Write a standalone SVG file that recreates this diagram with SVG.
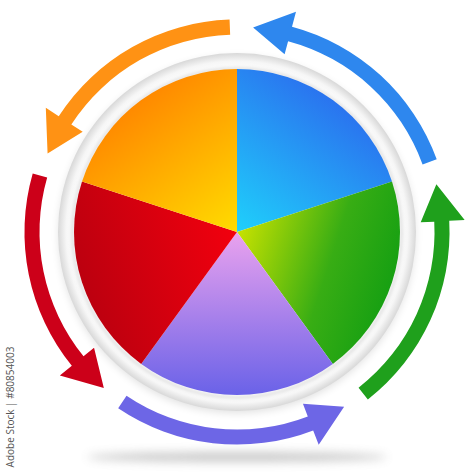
<svg xmlns="http://www.w3.org/2000/svg" xmlns:xlink="http://www.w3.org/1999/xlink" width="474" height="474" viewBox="0 0 474 474">
  <style>
    .wm { font-family: "Open Sans", "Liberation Sans", sans-serif; font-size: 10px; fill: #555; }
  </style>
  <defs>
    <linearGradient id="gBlue" gradientUnits="userSpaceOnUse" x1="237" y1="232" x2="332.8" y2="100.1">
      <stop offset="0" stop-color="#1fd0fb"/>
      <stop offset="1" stop-color="#2a74ef"/>
    </linearGradient>
    <linearGradient id="gGreen" gradientUnits="userSpaceOnUse" x1="237" y1="232" x2="392" y2="282.4">
      <stop offset="0" stop-color="#c8e200"/>
      <stop offset="0.6" stop-color="#38ad14"/>
      <stop offset="1" stop-color="#17a012"/>
    </linearGradient>
    <linearGradient id="gPurple" gradientUnits="userSpaceOnUse" x1="237" y1="232" x2="237" y2="395">
      <stop offset="0" stop-color="#eaa2ee"/>
      <stop offset="1" stop-color="#6a62e8"/>
    </linearGradient>
    <linearGradient id="gRed" gradientUnits="userSpaceOnUse" x1="237" y1="232" x2="82" y2="282.4">
      <stop offset="0" stop-color="#f2000e"/>
      <stop offset="1" stop-color="#bc000f"/>
    </linearGradient>
    <linearGradient id="gOrange" gradientUnits="userSpaceOnUse" x1="237" y1="232" x2="141.2" y2="100.1">
      <stop offset="0" stop-color="#ffdc00"/>
      <stop offset="1" stop-color="#ff8a00"/>
    </linearGradient>
    <radialGradient id="gRing" gradientUnits="userSpaceOnUse" cx="237" cy="232" r="179">
      <stop offset="0.9" stop-color="#ffffff"/>
      <stop offset="0.955" stop-color="#f6f6f6"/>
      <stop offset="1" stop-color="#d8d8d8"/>
    </radialGradient>
    <filter id="blur4" x="-20%" y="-20%" width="140%" height="140%">
      <feGaussianBlur stdDeviation="4"/>
    </filter>
    <filter id="blur2" x="-20%" y="-20%" width="140%" height="140%">
      <feGaussianBlur stdDeviation="1.5"/>
    </filter>
    <filter id="blurShadow" x="-30%" y="-300%" width="160%" height="700%">
      <feGaussianBlur stdDeviation="5"/>
    </filter>
    <path id="arr" d="M199.7,-72.7 A212.5,212.5 0 0,0 55.0,-205.3 L59.0,-220.2 L16.1,-204.4 L47.6,-177.7 L51.1,-190.8 A197.5,197.5 0 0,1 185.6,-67.5 Z"/>
  </defs>

  <rect width="474" height="474" fill="#ffffff"/>

  <!-- ground shadow -->
  <ellipse cx="237" cy="457" rx="150" ry="5" fill="#8a8a8a" opacity="0.45" filter="url(#blurShadow)"/>

  <!-- ring -->
  <g id="ring">
    <circle cx="237" cy="235" r="178" fill="#000" opacity="0.12" filter="url(#blur4)"/>
    <circle cx="237" cy="232" r="179" fill="url(#gRing)"/>
    <circle cx="237" cy="233" r="164.5" fill="none" stroke="#e2e2e2" stroke-width="3" filter="url(#blur2)"/>
  </g>

  <!-- pie slices -->
  <g id="slice-blue">
    <path d="M237,232 L237,69 A163,163 0 0,1 392,181.6 Z" fill="url(#gBlue)"/>
  </g>
  <g id="slice-green">
    <path d="M237,232 L392,181.6 A163,163 0 0,1 332.8,363.9 Z" fill="url(#gGreen)"/>
  </g>
  <g id="slice-purple">
    <path d="M237,232 L332.8,363.9 A163,163 0 0,1 141.2,363.9 Z" fill="url(#gPurple)"/>
  </g>
  <g id="slice-red">
    <path d="M237,232 L141.2,363.9 A163,163 0 0,1 82,181.6 Z" fill="url(#gRed)"/>
  </g>
  <g id="slice-orange">
    <path d="M237,232 L82,181.6 A163,163 0 0,1 237,69 Z" fill="url(#gOrange)"/>
  </g>

  <!-- circular arrows -->
  <g id="connectors" transform="translate(237,232)">
    <use xlink:href="#arr" href="#arr" fill="#2e87ee"/>
    <use xlink:href="#arr" href="#arr" fill="#ff9214" transform="rotate(-72)"/>
    <use xlink:href="#arr" href="#arr" fill="#cc0019" transform="rotate(-144)"/>
    <use xlink:href="#arr" href="#arr" fill="#6d66e6" transform="rotate(-216)"/>
    <use xlink:href="#arr" href="#arr" fill="#1fa01c" transform="rotate(-288)"/>
  </g>

  <text class="wm" transform="translate(14,407) rotate(-90)" text-anchor="middle">Adobe Stock | #80854003</text>
</svg>
